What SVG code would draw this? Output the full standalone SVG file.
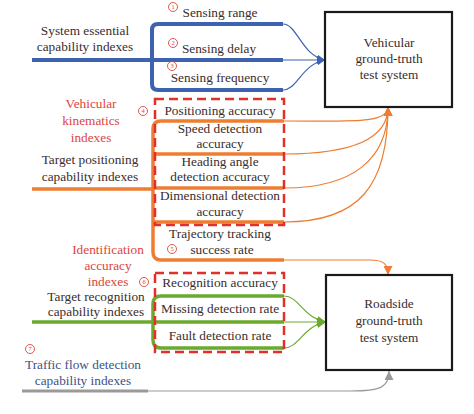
<svg xmlns="http://www.w3.org/2000/svg" width="474" height="414" viewBox="0 0 474 414" font-family="'Liberation Serif', 'Times New Roman', 'DejaVu Serif', serif">
<style>
text{font-family:'Liberation Serif','Times New Roman','DejaVu Serif',serif;font-size:13.3px;fill:#3a2d2d}
.c{text-anchor:middle}
.red{fill:#e0443c}
.tf{fill:#3e5285}
.num{font-size:6.5px;fill:#e0443c;text-anchor:middle}
.circ{fill:none;stroke:#e0443c;stroke-width:0.9}
.dash{fill:none;stroke:#e0302a;stroke-width:2.5;stroke-dasharray:9 5}
.box{fill:#fff;stroke:#1a1a1a;stroke-width:2.2}
.thk{fill:none;stroke-linecap:butt;stroke-linejoin:round}
.thin{fill:none;stroke-width:1.2}
</style>
<defs>
<marker id="ab" viewBox="0 0 10 10" refX="10" refY="5" markerWidth="8" markerHeight="8" markerUnits="userSpaceOnUse" orient="auto"><path d="M0,0 L10,5 L0,10 Z" fill="#3d63b0"/></marker>
<marker id="ao" viewBox="0 0 10 10" refX="10" refY="5" markerWidth="9" markerHeight="9" markerUnits="userSpaceOnUse" orient="auto"><path d="M0,0 L10,5 L0,10 Z" fill="#ed7d31"/></marker>
<marker id="ag" viewBox="0 0 10 10" refX="10" refY="5" markerWidth="9" markerHeight="9" markerUnits="userSpaceOnUse" orient="auto"><path d="M0,0 L10,5 L0,10 Z" fill="#6aab2e"/></marker>
<marker id="ay" viewBox="0 0 10 10" refX="10" refY="5" markerWidth="9" markerHeight="9" markerUnits="userSpaceOnUse" orient="auto"><path d="M0,0 L10,5 L0,10 Z" fill="#9a9a9a"/></marker>
</defs>

<g id="connectors">
<path class="thk" stroke="#3d63b0" stroke-width="4" d="M283,24 H158 Q152,24 152,30 V84 Q152,90 158,90 H283"/>
<path class="thk" stroke="#3d63b0" stroke-width="4" d="M32,60 H283"/>
<path class="thin" stroke="#3d63b0" d="M283,24 C297,24 302,56 325,60" marker-end="url(#ab)"/>
<path class="thin" stroke="#3d63b0" d="M283,60 H325" marker-end="url(#ab)"/>
<path class="thin" stroke="#3d63b0" d="M283,90 C297,90 302,64 325,60" marker-end="url(#ab)"/>
<path class="thk" stroke="#ed7d31" stroke-width="3.5" d="M284,121 H161 Q153,121 153,129 V252 Q153,260 161,260 H284"/>
<path class="thk" stroke="#ed7d31" stroke-width="3.5" d="M32,189 H153"/>
<path class="thk" stroke="#ed7d31" stroke-width="3.5" d="M153,154 H284 M153,188 H284 M153,222 H284"/>
<path class="thin" stroke="#ed7d31" d="M284,121 C350,121 388,124 388,107" marker-end="url(#ao)"/>
<path class="thin" stroke="#ed7d31" d="M284,154 C350,154 388,140 388,107" marker-end="url(#ao)"/>
<path class="thin" stroke="#ed7d31" d="M284,188 C352,188 388,160 388,107" marker-end="url(#ao)"/>
<path class="thin" stroke="#ed7d31" d="M284,222 C360,222 388,185 388,107" marker-end="url(#ao)"/>
<path class="thin" stroke="#ed7d31" d="M284,260 H370 C384,260 388,264 388,275" marker-end="url(#ao)"/>
<path class="thk" stroke="#6aab2e" stroke-width="3.5" d="M284,296 H161 Q153,296 153,304 V340 Q153,348 161,348 H284"/>
<path class="thk" stroke="#6aab2e" stroke-width="3.5" d="M32,322 H284"/>
<path class="thin" stroke="#6aab2e" d="M284,296 C299,296 303,318 326,322" marker-end="url(#ag)"/>
<path class="thin" stroke="#6aab2e" d="M284,322 H326" marker-end="url(#ag)"/>
<path class="thin" stroke="#6aab2e" d="M284,348 C299,348 303,326 326,322" marker-end="url(#ag)"/>
<path class="thk" stroke="#9a9a9a" stroke-width="3" d="M22,391 H148"/>
<path class="thin" stroke="#9a9a9a" d="M148,391 H350 C380,391 389,388 389,371" marker-end="url(#ay)"/>
</g>

<g id="dashed-groups">
<rect class="dash" x="155" y="99" width="129" height="126"/>
<rect class="dash" x="155" y="273" width="129" height="79"/>
</g>

<g id="vehicular-system">
<rect class="box" x="325" y="12" width="127" height="95"/>
<text class="c" x="389" y="47">Vehicular</text>
<text class="c" x="389" y="63">ground-truth</text>
<text class="c" x="389" y="79">test system</text>
</g>
<g id="roadside-system">
<rect class="box" x="326" y="275" width="126" height="95"/>
<text class="c" x="389" y="308">Roadside</text>
<text class="c" x="389" y="325">ground-truth</text>
<text class="c" x="389" y="342">test system</text>
</g>

<g id="system-essential">
<text class="c" x="85" y="35">System essential</text>
<text class="c" x="85" y="51">capability indexes</text>
</g>
<g id="sensing-range">
<circle class="circ" cx="173" cy="7" r="4.5"/><text class="num" x="173" y="9.3">1</text>
<text class="c" x="220" y="17">Sensing range</text>
</g>
<g id="sensing-delay">
<circle class="circ" cx="173" cy="43" r="4.5"/><text class="num" x="173" y="45.3">2</text>
<text class="c" x="219" y="53">Sensing delay</text>
</g>
<g id="sensing-frequency">
<circle class="circ" cx="172" cy="66" r="4.5"/><text class="num" x="172" y="68.3">3</text>
<text class="c" x="220" y="82">Sensing frequency</text>
</g>

<g id="vehicular-kinematics">
<text class="c red" x="91" y="108">Vehicular</text>
<text class="c red" x="91" y="125">kinematics</text>
<text class="c red" x="91" y="142">indexes</text>
<circle class="circ" cx="143" cy="111" r="4.5"/><text class="num" x="143" y="113.3">4</text>
</g>
<g id="target-positioning">
<text class="c" x="90" y="164">Target positioning</text>
<text class="c" x="90" y="181">capability indexes</text>
</g>
<g id="positioning-accuracy"><text class="c" x="220" y="115">Positioning accuracy</text></g>
<g id="speed-detection"><text class="c" x="220" y="133">Speed detection</text><text class="c" x="220" y="148">accuracy</text></g>
<g id="heading-angle"><text class="c" x="220" y="166">Heading angle</text><text class="c" x="220" y="181">detection accuracy</text></g>
<g id="dimensional-detection"><text class="c" x="220" y="200">Dimensional detection</text><text class="c" x="220" y="216">accuracy</text></g>
<g id="trajectory-tracking">
<text class="c" x="220" y="238">Trajectory tracking</text>
<circle class="circ" cx="172" cy="249" r="4.5"/><text class="num" x="172" y="251.3">5</text>
<text class="c" x="222" y="254">success rate</text>
</g>

<g id="identification-accuracy">
<text class="c red" x="108" y="254">Identification</text>
<text class="c red" x="108" y="270">accuracy</text>
<text class="c red" x="108" y="286">indexes</text>
<circle class="circ" cx="144" cy="282" r="4.5"/><text class="num" x="144" y="284.3">6</text>
</g>
<g id="target-recognition">
<text class="c" x="96" y="301">Target recognition</text>
<text class="c" x="96" y="316">capability indexes</text>
</g>
<g id="recognition-accuracy"><text class="c" x="220" y="287">Recognition accuracy</text></g>
<g id="missing-detection"><text class="c" x="220" y="313">Missing detection rate</text></g>
<g id="fault-detection"><text class="c" x="220" y="340">Fault detection rate</text></g>

<g id="traffic-flow">
<circle class="circ" cx="30" cy="349" r="4.5"/><text class="num" x="30" y="351.3">7</text>
<text class="c tf" x="83" y="369">Traffic flow detection</text>
<text class="c tf" x="83" y="385">capability indexes</text>
</g>
</svg>
